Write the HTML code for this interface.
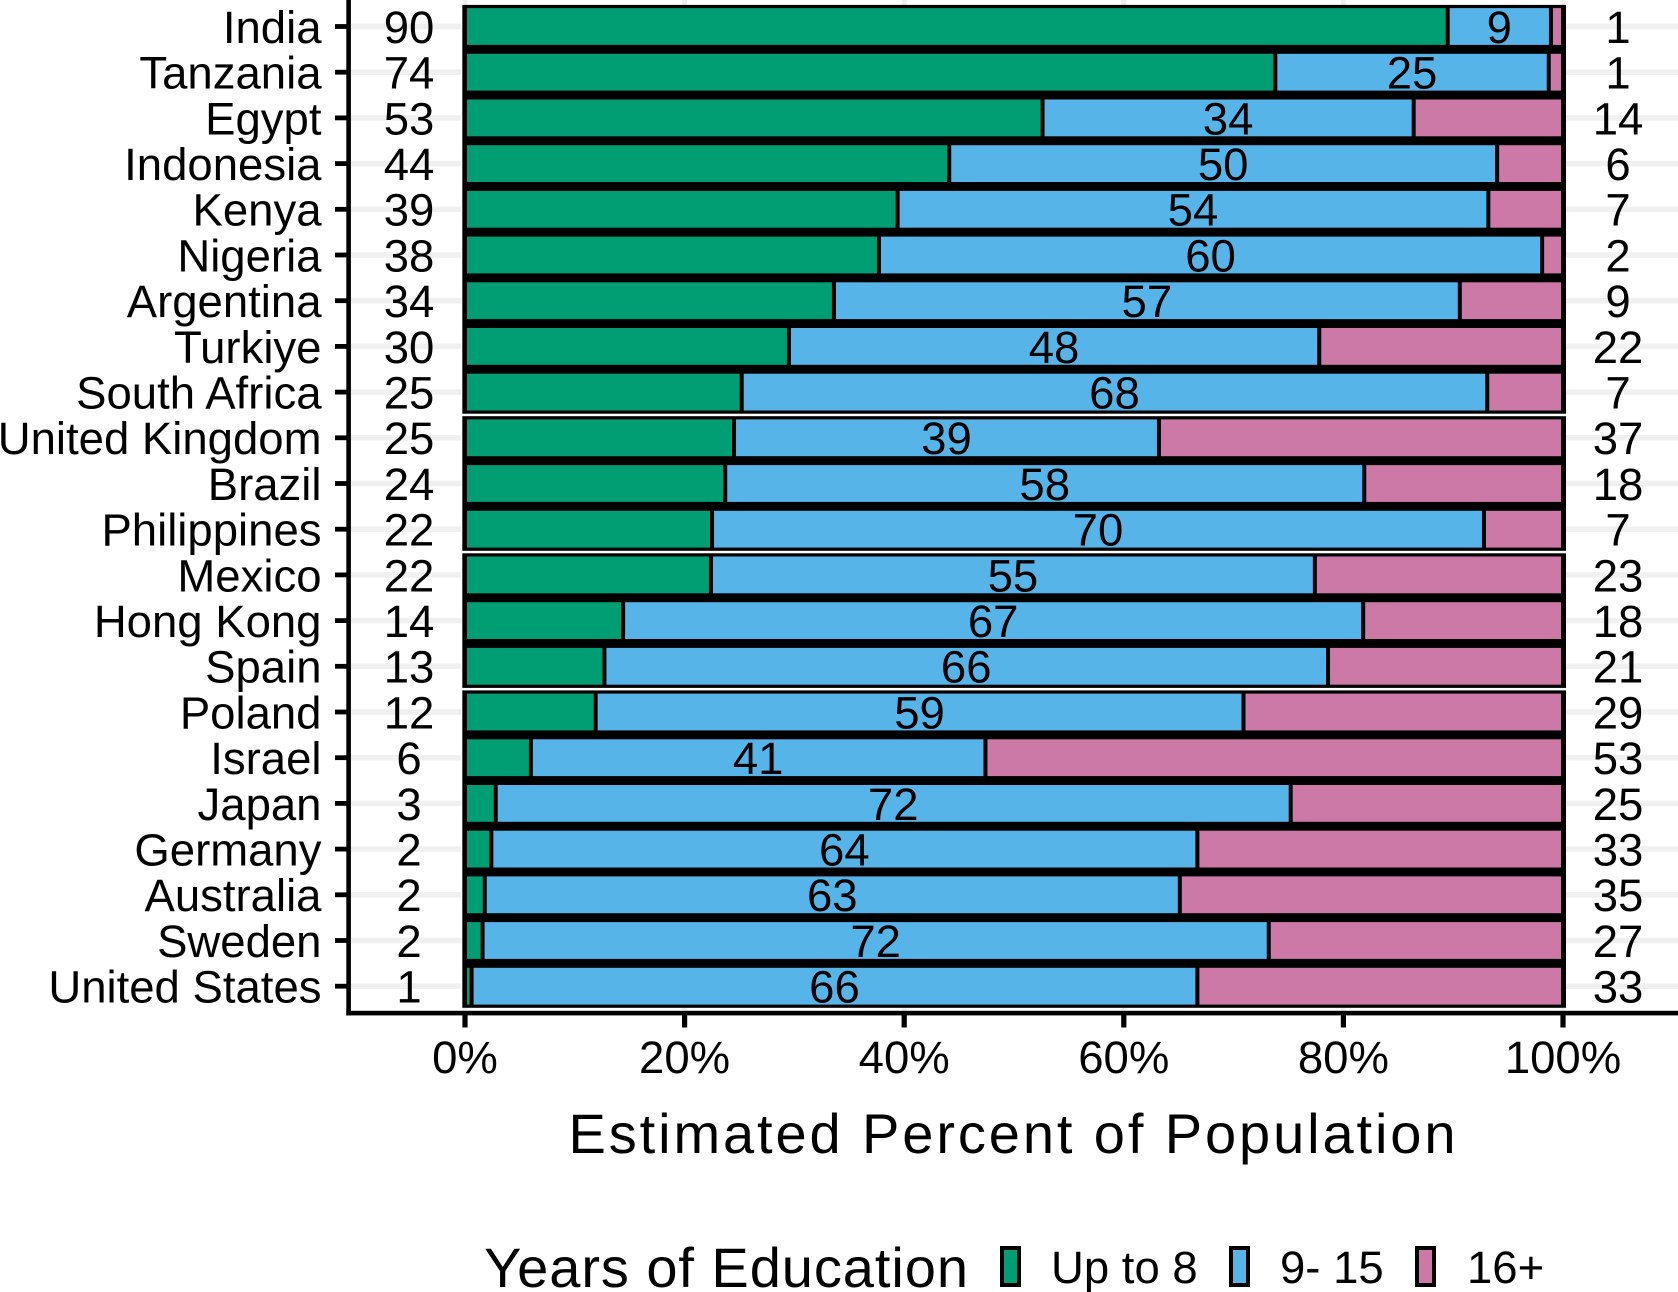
<!DOCTYPE html>
<html lang="en">
<head>
<meta charset="utf-8">
<title>Estimated Percent of Population by Years of Education</title>
<style>
html,body{margin:0;padding:0;background:#fff;width:1678px;height:1292px;overflow:hidden}
svg{display:block;font-family:"Liberation Sans",Arial,sans-serif;fill:#000}
</style>
</head>
<body>
<svg id="chart" xmlns="http://www.w3.org/2000/svg" width="1678" height="1292" viewBox="0 0 1678 1292"></svg>
<script>
const countries = ["India","Tanzania","Egypt","Indonesia","Kenya","Nigeria","Argentina","Turkiye","South Africa","United Kingdom","Brazil","Philippines","Mexico","Hong Kong","Spain","Poland","Israel","Japan","Germany","Australia","Sweden","United States"];
const upTo8Share = [89.5,73.8,52.6,44.1,39.4,37.7,33.6,29.5,25.2,24.5,23.7,22.5,22.4,14.4,12.7,11.9,6,2.8,2.4,1.8,1.6,0.6];
const midShare = [9.4,24.9,33.8,49.9,53.8,60.4,57,48.3,67.9,38.7,58.2,70.3,55,67.4,65.9,59,41.4,72.4,64.3,63.3,71.6,66.1];
const topShare = [1.1,1.3,13.6,6,6.8,1.9,9.4,22.2,6.9,36.8,18.1,7.2,22.6,18.2,21.4,29.1,52.6,24.8,33.3,34.9,26.8,33.3];
const upTo8Labels = ["90","74","53","44","39","38","34","30","25","25","24","22","22","14","13","12","6","3","2","2","2","1"];
const midLabels = ["9","25","34","50","54","60","57","48","68","39","58","70","55","67","66","59","41","72","64","63","72","66"];
const topLabels = ["1","1","14","6","7","2","9","22","7","37","18","7","23","18","21","29","53","25","33","35","27","33"];
const groupSizes = [9,3,3,7];
const xTicks = [0,20,40,60,80,100];
const legendEntries = ["Up to 8","9- 15","16+"];
const seriesColors = ["#029e73","#56b4e9","#cc79a7"];

const svg = document.getElementById('chart');
const NS = 'http://www.w3.org/2000/svg';
const xScale = v => 465 + v * 10.98;
const yCenter = i => 26.5 + i * 45.7;

function add(tag, attrs, text) {
  const el = document.createElementNS(NS, tag);
  for (const k in attrs) el.setAttribute(k, attrs[k]);
  if (text !== undefined) el.textContent = text;
  svg.appendChild(el);
  return el;
}

// horizontal gridlines
countries.forEach((c, i) => {
  const g1 = add('rect', {x: 351, y: yCenter(i) - 2.8, width: 110, height: 5.6, fill: '#f0f0f0'});
  
  
  const g2 = add('rect', {x: 1566, y: yCenter(i) - 2.8, width: 112, height: 5.6, fill: '#f0f0f0'});
  
  
});

// vertical gridline stubs above and below the panels
xTicks.forEach(t => {
  const v1 = add('rect', {x: xScale(t) - 2.5, y: 0, width: 5, height: 5, fill: '#f0f0f0'});
  
  
  const v2 = add('rect', {x: xScale(t) - 2.5, y: 1008, width: 5, height: 3, fill: '#f0f0f0'});
  
  
});

// black panels per group
let startRow = 0;
groupSizes.forEach(n => {
  const top = yCenter(startRow) - 21.6;
  const bottom = yCenter(startRow + n - 1) + 21.6;
  const p = add('rect', {x: 462.3, y: top, width: 1103.7, height: bottom - top, fill: '#000'});
  
  
  startRow += n;
});

// stacked bars and labels
countries.forEach((c, i) => {
  const cy = yCenter(i);
  const shares = [upTo8Share[i], midShare[i], topShare[i]];
  let cum = 0;
  shares.forEach((s, k) => {
    const x0 = xScale(cum) + 2;
    const x1 = xScale(cum + s) - 2;
    cum += s;
    const r = add('rect', {x: x0, y: cy - 18.4, width: Math.max(x1 - x0, 0.5), height: 36.8, fill: seriesColors[k]});
    
    
  });

  const base = cy + 16.4;
  const mid = xScale(upTo8Share[i] + midShare[i] / 2);
  const nameLabel = add('text', {x: 321.5, y: base, 'text-anchor': 'end', 'font-size': 45.5}, c);
  
  
  const leftVal = add('text', {x: 409, y: base, 'text-anchor': 'middle', 'font-size': 45.5}, upTo8Labels[i]);
  
  
  const midVal = add('text', {x: mid, y: base, 'text-anchor': 'middle', 'font-size': 45.5}, midLabels[i]);
  
  
  const rightVal = add('text', {x: 1618, y: base, 'text-anchor': 'middle', 'font-size': 45.5}, topLabels[i]);
  
  
  const tick = add('rect', {x: 335, y: cy - 2.4, width: 12, height: 4.8, fill: '#000'});
  
  
});

// axes
const yAxis = add('rect', {x: 346.3, y: 0, width: 4.6, height: 1015.4, fill: '#000'});


const xAxis = add('rect', {x: 346.3, y: 1010.8, width: 1331.7, height: 4.6, fill: '#000'});



xTicks.forEach(t => {
  const tk = add('rect', {x: xScale(t) - 2.6, y: 1015, width: 5.2, height: 12.5, fill: '#000'});
  
  
  const lb = add('text', {x: xScale(t), y: 1073, 'text-anchor': 'middle', 'font-size': 45.5}, t + '%');
  
  
});

const xTitle = add('text', {x: 568.5, y: 1153, 'font-size': 56, textLength: 887, lengthAdjust: 'spacing'}, 'Estimated Percent of Population');



// legend
const legTitle = add('text', {x: 484, y: 1287, 'font-size': 56, textLength: 484, lengthAdjust: 'spacing'}, 'Years of Education');



const legendSwatchX = [1000, 1229, 1415];
const legendTextX = [1051, 1280, 1467];
legendEntries.forEach((e, k) => {
  const sw = add('rect', {x: legendSwatchX[k] + 2, y: 1248, width: 17, height: 37, fill: seriesColors[k], stroke: '#000', 'stroke-width': 4});
  
  
  const tx = add('text', {x: legendTextX[k], y: 1283, 'font-size': 45.5}, e);
  
  
});
</script>
</body>
</html>
